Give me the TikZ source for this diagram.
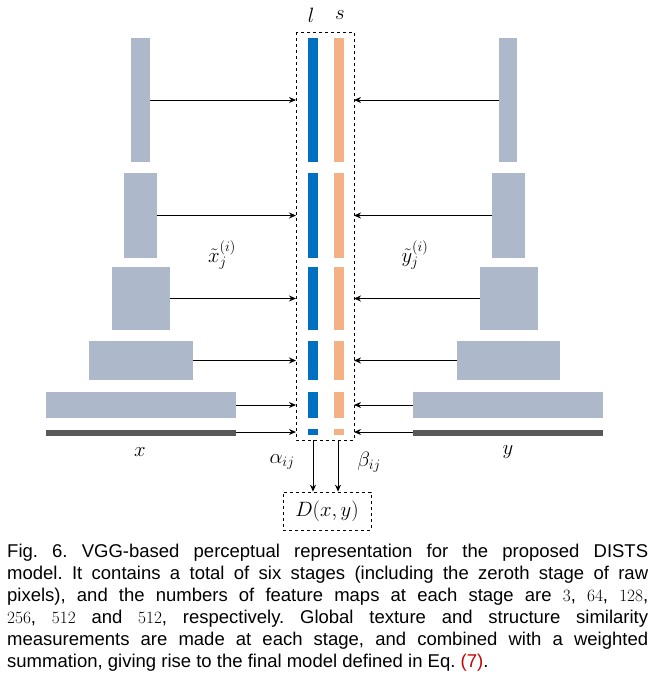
\documentclass[tikz,border=0pt]{standalone}
\usepackage{fontspec}
\setmainfont{Liberation Sans}
\usetikzlibrary{arrows.meta}
\definecolor{fblue}{RGB}{0,112,192}
\definecolor{forange}{RGB}{244,177,131}
\definecolor{fgray}{RGB}{173,185,202}
\definecolor{fdark}{RGB}{89,89,89}
\definecolor{fred}{RGB}{200,0,0}
\begin{document}
\begin{tikzpicture}[x=1pt,y=-1pt,
  bar/.style={fill=fgray,draw=none},
  arr/.style={-{Stealth[length=7pt,width=6pt]},line width=0.9pt},
  lab/.style={font=\fontsize{22}{24}\selectfont},
  dbox/.style={draw,dashed,line width=0.7pt}]
\useasboundingbox (0,0) rectangle (651,683);
% left stack
\foreach \n/\a/\b/\t/\u in {1/131/150/38/162,2/124/157/173/258,3/112/170/267/330,4/89/193/341/380,5/46/236/392/418}{
  \path[bar] (\a,\t) rectangle (\b,\u);
  \coordinate (L\n) at (\b,{(\t+\u)/2});
}
\path[fill=fdark] (46,430) rectangle (236,436); \coordinate (L6) at (236,432);
% right stack
\foreach \n/\a/\b/\t/\u in {1/499/517/38/162,2/492/525/173/258,3/480/538/267/330,4/457/560/341/380,5/413/603/392/418}{
  \path[bar] (\a,\t) rectangle (\b,\u);
  \coordinate (R\n) at (\a,{(\t+\u)/2});
}
\path[fill=fdark] (413,430) rectangle (603,436); \coordinate (R6) at (413,432);
% middle
\foreach \n/\t/\u in {1/38/162,2/173/258,3/267/330,4/341/380,5/392/418,6/429/435}{
  \path[fill=fblue] (308,\t) rectangle (318,\u);
  \path[fill=forange] (334,\t) rectangle (344,\u);
  \coordinate (ML\n) at (296,{(\t+\u)/2});
  \coordinate (MR\n) at (354,{(\t+\u)/2});
  \draw[arr] (L\n) -- (ML\n);
  \draw[arr] (R\n) -- (MR\n);
}
\draw[dbox] (296,32) rectangle (354,440);
\node[lab] (l) at (311,15) {$l$};
\node[lab] (s) at (340,15) {$s$};
\node[lab] (xt) at (222,255) {$\tilde{x}_j^{(i)}$};
\node[lab] (yt) at (415,255) {$\tilde{y}_j^{(i)}$};
\node[lab] (xl) at (140,452) {$x$};
\node[lab] (yl) at (508,452) {$y$};
\node[lab] (al) at (282,462) {$\alpha_{ij}$};
\node[lab] (be) at (369,462) {$\beta_{ij}$};
\node[dbox,lab,minimum width=88pt,minimum height=38pt,inner sep=0pt] (D) at (327,511) {$D(x,y)$};
\coordinate (a0) at (313,440); \coordinate (b0) at (338,440);
\draw[arr] (a0) -- (a0|-D.north);
\draw[arr] (b0) -- (b0|-D.north);
\node[anchor=north west,inner sep=0pt,text width=641pt,align=justify,
  font=\fontsize{18.5}{21.9}\selectfont\frenchspacing] (cap) at (7,544)
{Fig. 6. VGG-based perceptual representation for the proposed DISTS\linebreak model. It contains a total of six stages (including the zeroth stage of raw\linebreak pixels), and the numbers of feature maps at each stage are $3$, $64$, $128$,\linebreak $256$, $512$ and $512$, respectively. Global texture and structure similarity\linebreak measurements are made at each stage, and combined with a weighted\linebreak summation, giving rise to the final model defined in Eq.~{\color{fred}(7)}.};
\end{tikzpicture}
\end{document}
